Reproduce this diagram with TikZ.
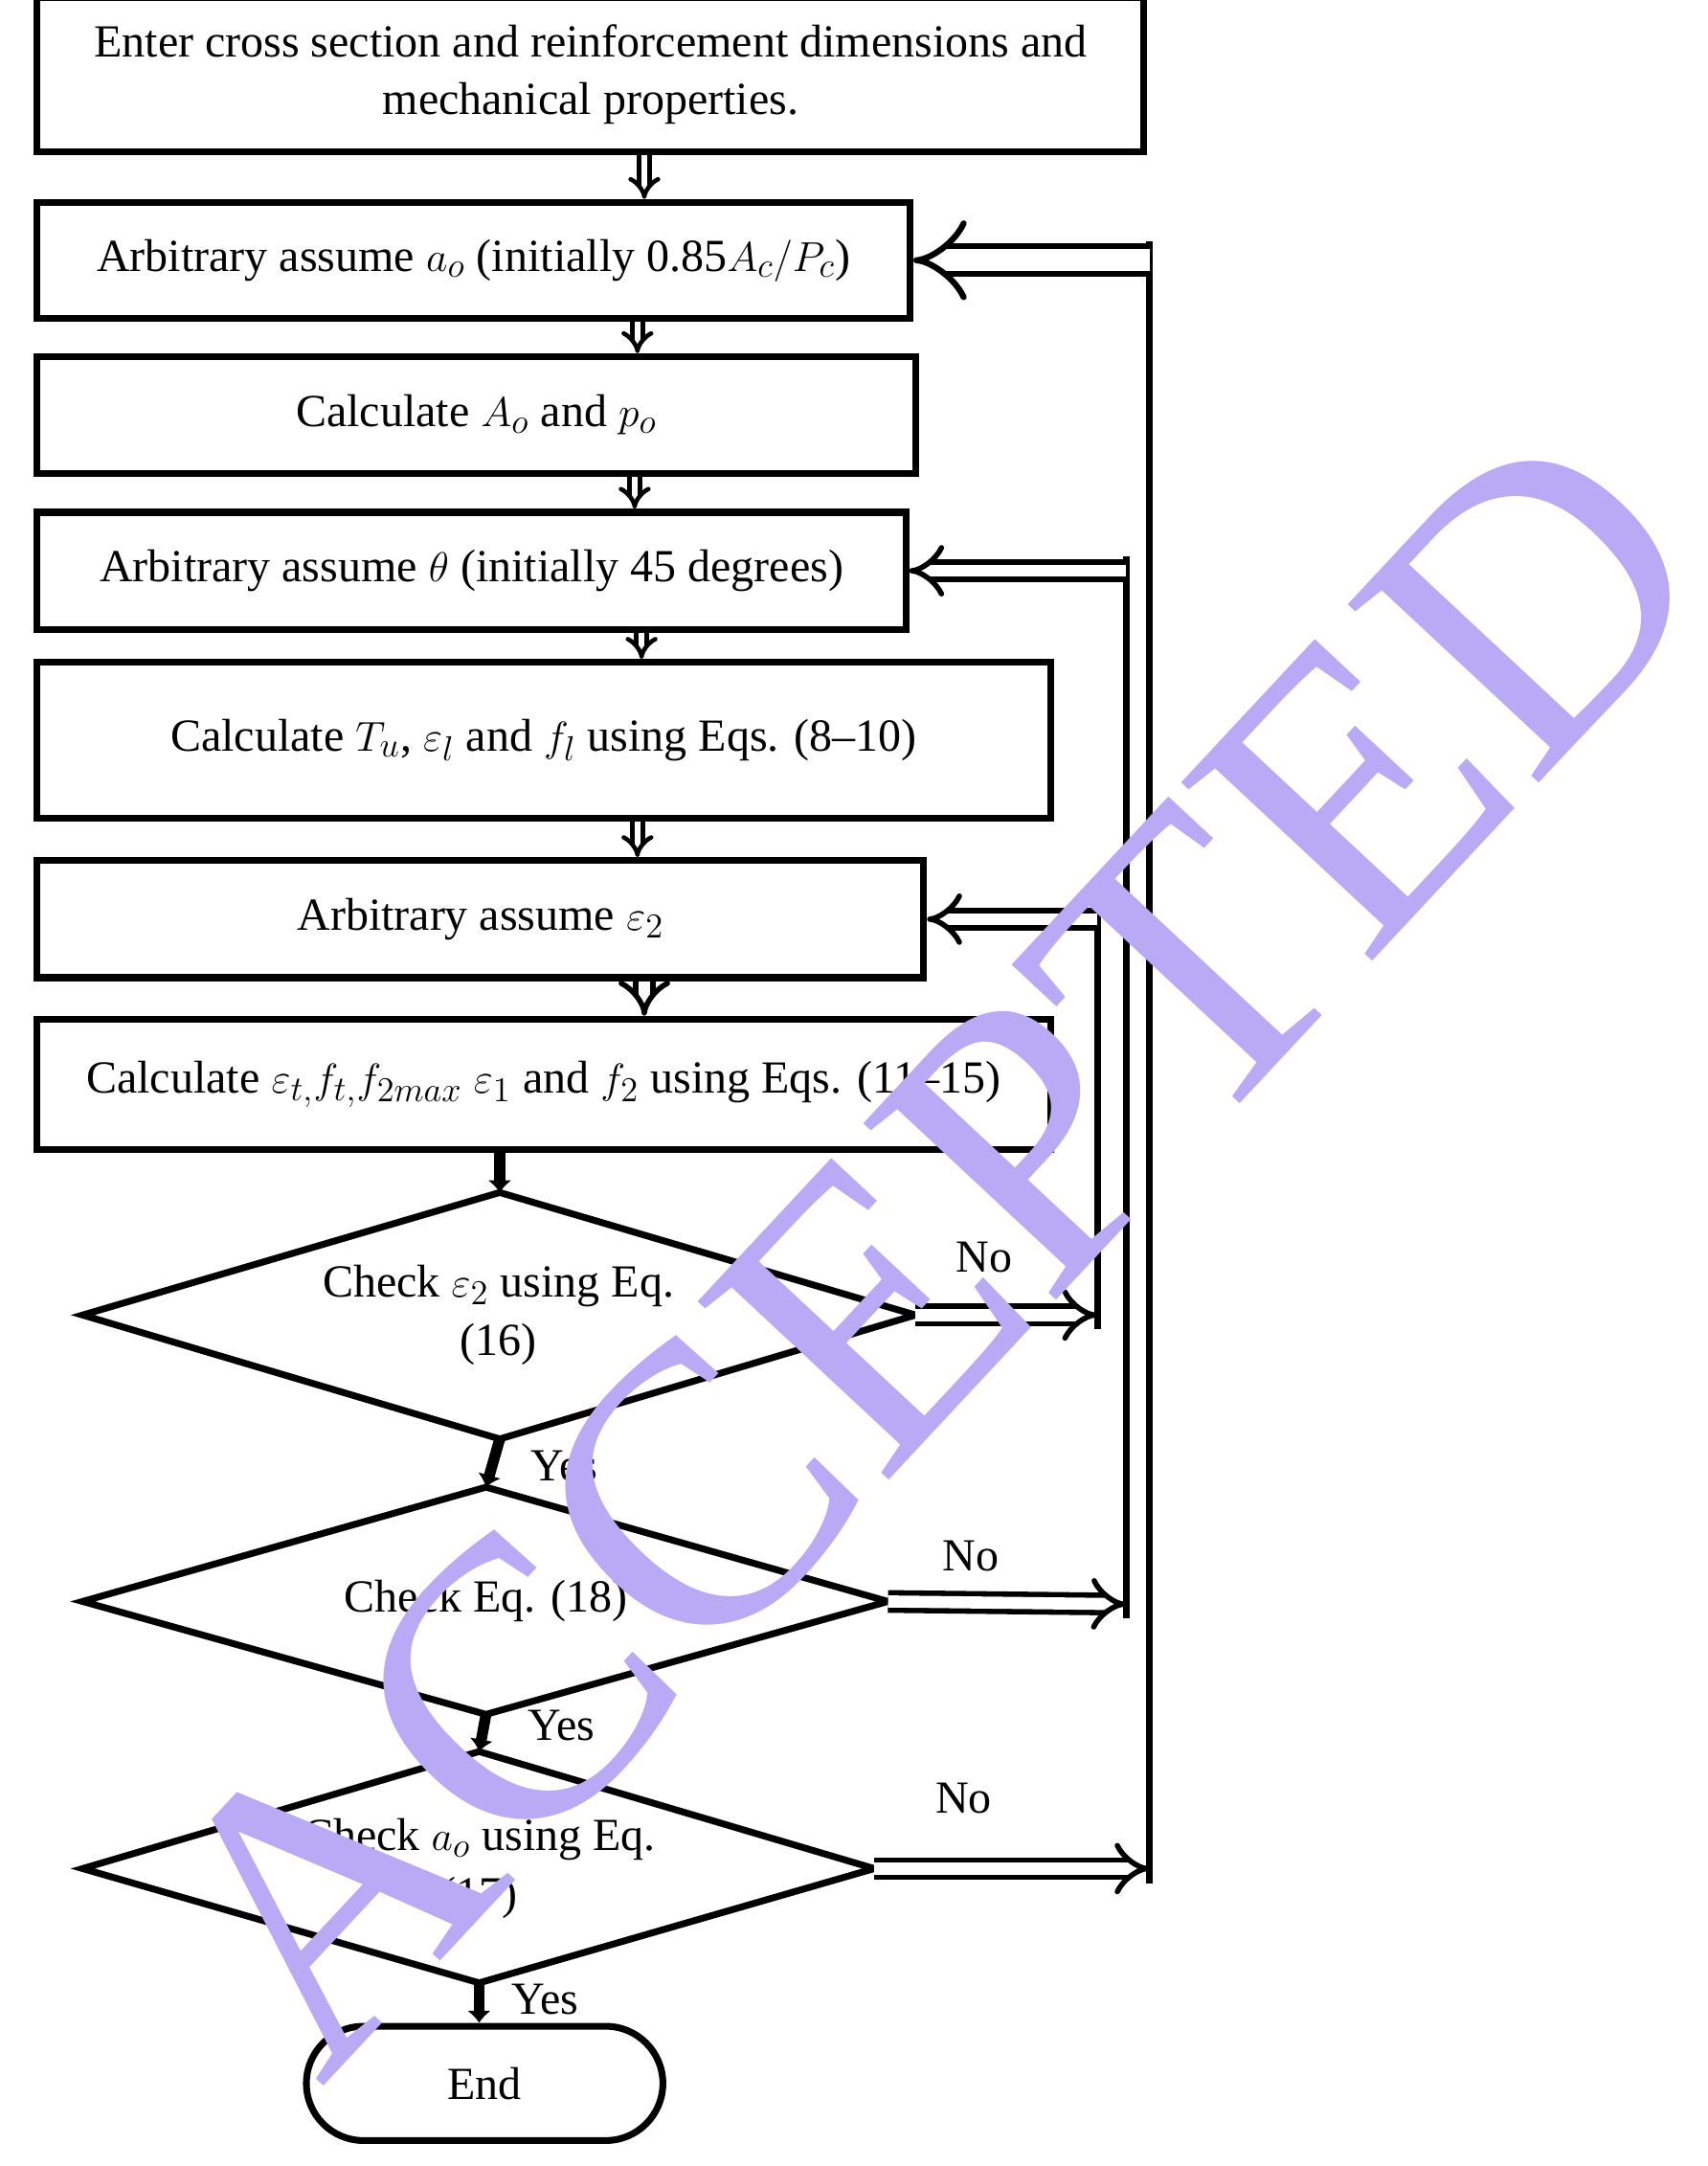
\documentclass[tikz,border=0pt]{standalone}
\usepackage{fontspec}
\setmainfont{Liberation Serif}
\usetikzlibrary{shapes.geometric,arrows.meta}
\definecolor{wm}{RGB}{185,170,245}
\begin{document}
\begin{tikzpicture}[x=0.02cm,y=-0.02cm,
  box/.style={draw,line width=2.8pt,inner sep=0pt,align=center,font=\fontsize{19}{24}\selectfont},
  txt/.style={inner sep=0pt,align=center,font=\fontsize{19}{24}\selectfont},
  dl/.style={line width=2.8pt,line join=miter},
  dar/.style={double,double distance=2.5pt,line width=1.8pt,-{Implies}},
  bar/.style={double,double distance=5pt,line width=2.2pt,-{Implies}},
  sar/.style={line width=4.5pt,-{Latex[length=5pt,width=10pt]}},
  vline/.style={line width=2.8pt},
  lab/.style={font=\fontsize{19}{24}\selectfont}]
\useasboundingbox (0,0) rectangle (1240,1573);
\node[box,minimum width=16.08cm,minimum height=2.24cm] (b1) at (429,54) {Enter cross section and reinforcement dimensions and\\mechanical properties.};
\node[box,minimum width=12.68cm,minimum height=1.68cm] (b2) at (344,189) {Arbitrary assume $a_o$ (initially 0.85$A_c/P_c$)};
\node[box,minimum width=12.76cm,minimum height=1.7cm] (b3) at (346,301.5) {Calculate $A_o$ and $p_o$};
\node[box,minimum width=12.62cm,minimum height=1.7cm] (b4) at (342.5,414.5) {Arbitrary assume $\theta$ (initially 45 degrees)};
\node[box,minimum width=14.72cm,minimum height=2.26cm] (b5) at (395,537.5) {Calculate $T_u$, $\varepsilon_l$ and $f_l$ using Eqs. (8--10)};
\node[box,minimum width=12.88cm,minimum height=1.7cm] (b6) at (349,667.5) {Arbitrary assume $\varepsilon_2$};
\node[box,minimum width=14.72cm,minimum height=1.9cm] (b7) at (395,787.5) {Calculate $\varepsilon_{t,}f_{t,}f_{2max}\ \varepsilon_1$ and $f_2$ using Eqs. (11--15)};
% diamonds
\node[txt] (d1) at (362,955) {Check $\varepsilon_2$ using Eq.\\(16)};
\coordinate (d1n) at (363,866);\coordinate (d1s) at (363,1045);\coordinate (d1w) at (60,955);\coordinate (d1e) at (665,955);
\draw[dl] (d1n) -- (d1e) -- (d1s) -- (d1w) -- cycle;
\node[txt] (d2) at (353,1163) {Check Eq. (18)};
\coordinate (d2n) at (353,1080);\coordinate (d2s) at (353,1245);\coordinate (d2w) at (60,1163);\coordinate (d2e) at (645,1163);
\draw[dl] (d2n) -- (d2e) -- (d2s) -- (d2w) -- cycle;
\node[txt] (d3) at (348,1357) {Check $a_o$ using Eq.\\(17)};
\coordinate (d3n) at (348,1272);\coordinate (d3s) at (348,1440);\coordinate (d3w) at (60,1357);\coordinate (d3e) at (635,1357);
\draw[dl] (d3n) -- (d3e) -- (d3s) -- (d3w) -- cycle;
\node[box,rounded corners=0.83cm,minimum width=5.18cm,minimum height=1.66cm] (e) at (352,1513) {End};
\coordinate (x1) at (468,0);\coordinate (x2) at (463,0);\coordinate (x3) at (461,0);
\coordinate (x4) at (466,0);\coordinate (x5) at (463,0);\coordinate (x6) at (468,0);
\draw[dar] (b1.south -| x1) -- (b2.north -| x1);
\draw[dar] (b2.south -| x2) -- (b3.north -| x2);
\draw[dar] (b3.south -| x3) -- (b4.north -| x3);
\draw[dar] (b4.south -| x4) -- (b5.north -| x4);
\draw[dar] (b5.south -| x5) -- (b6.north -| x5);
\draw[bar] (b6.south -| x6) -- (b7.north -| x6);
\draw[sar] (b7.south -| d1n) -- (d1n);
\draw[sar] (d1s) -- (d2n);
\draw[sar] (d2s) -- (d3n);
\draw[sar] (d3s) -- (e.north -| d3s);
% loops
\coordinate (r1) at (797,955);\coordinate (r2) at (818,1165);\coordinate (r3) at (835,1357);
\draw[bar] (d1e) -- (r1);
\draw[bar] (d2e) -- (r2);
\draw[bar] (d3e) -- (r3);
\draw[vline] ([yshift=-6pt]r1) -- ([yshift=6pt]b6.east -| r1);
\draw[vline] ([yshift=-6pt]r2) -- ([yshift=6pt]b4.east -| r2);
\draw[vline] ([yshift=-6pt]r3) -- ([yshift=8pt]b2.east -| r3);
\draw[bar] (b6.east -| r1) -- (b6.east);
\draw[bar] (b4.east -| r2) -- (b4.east);
\draw[double,double distance=9pt,line width=2.5pt,-{Implies}] (b2.east -| r3) -- (b2.east);
\node[lab] (n1) at (715,913) {No};
\node[lab] (n2) at (705,1130) {No};
\node[lab] (n3) at (700,1306) {No};
\node[lab] (y1) at (410,1065) {Yes};
\node[lab] (y2) at (408,1253) {Yes};
\node[lab] (y3) at (396,1452) {Yes};
\node[text=wm,rotate=47,font=\fontsize{165}{165}\selectfont] (wmk) at (675,905) {ACCEPTED};
\end{tikzpicture}
\end{document}
